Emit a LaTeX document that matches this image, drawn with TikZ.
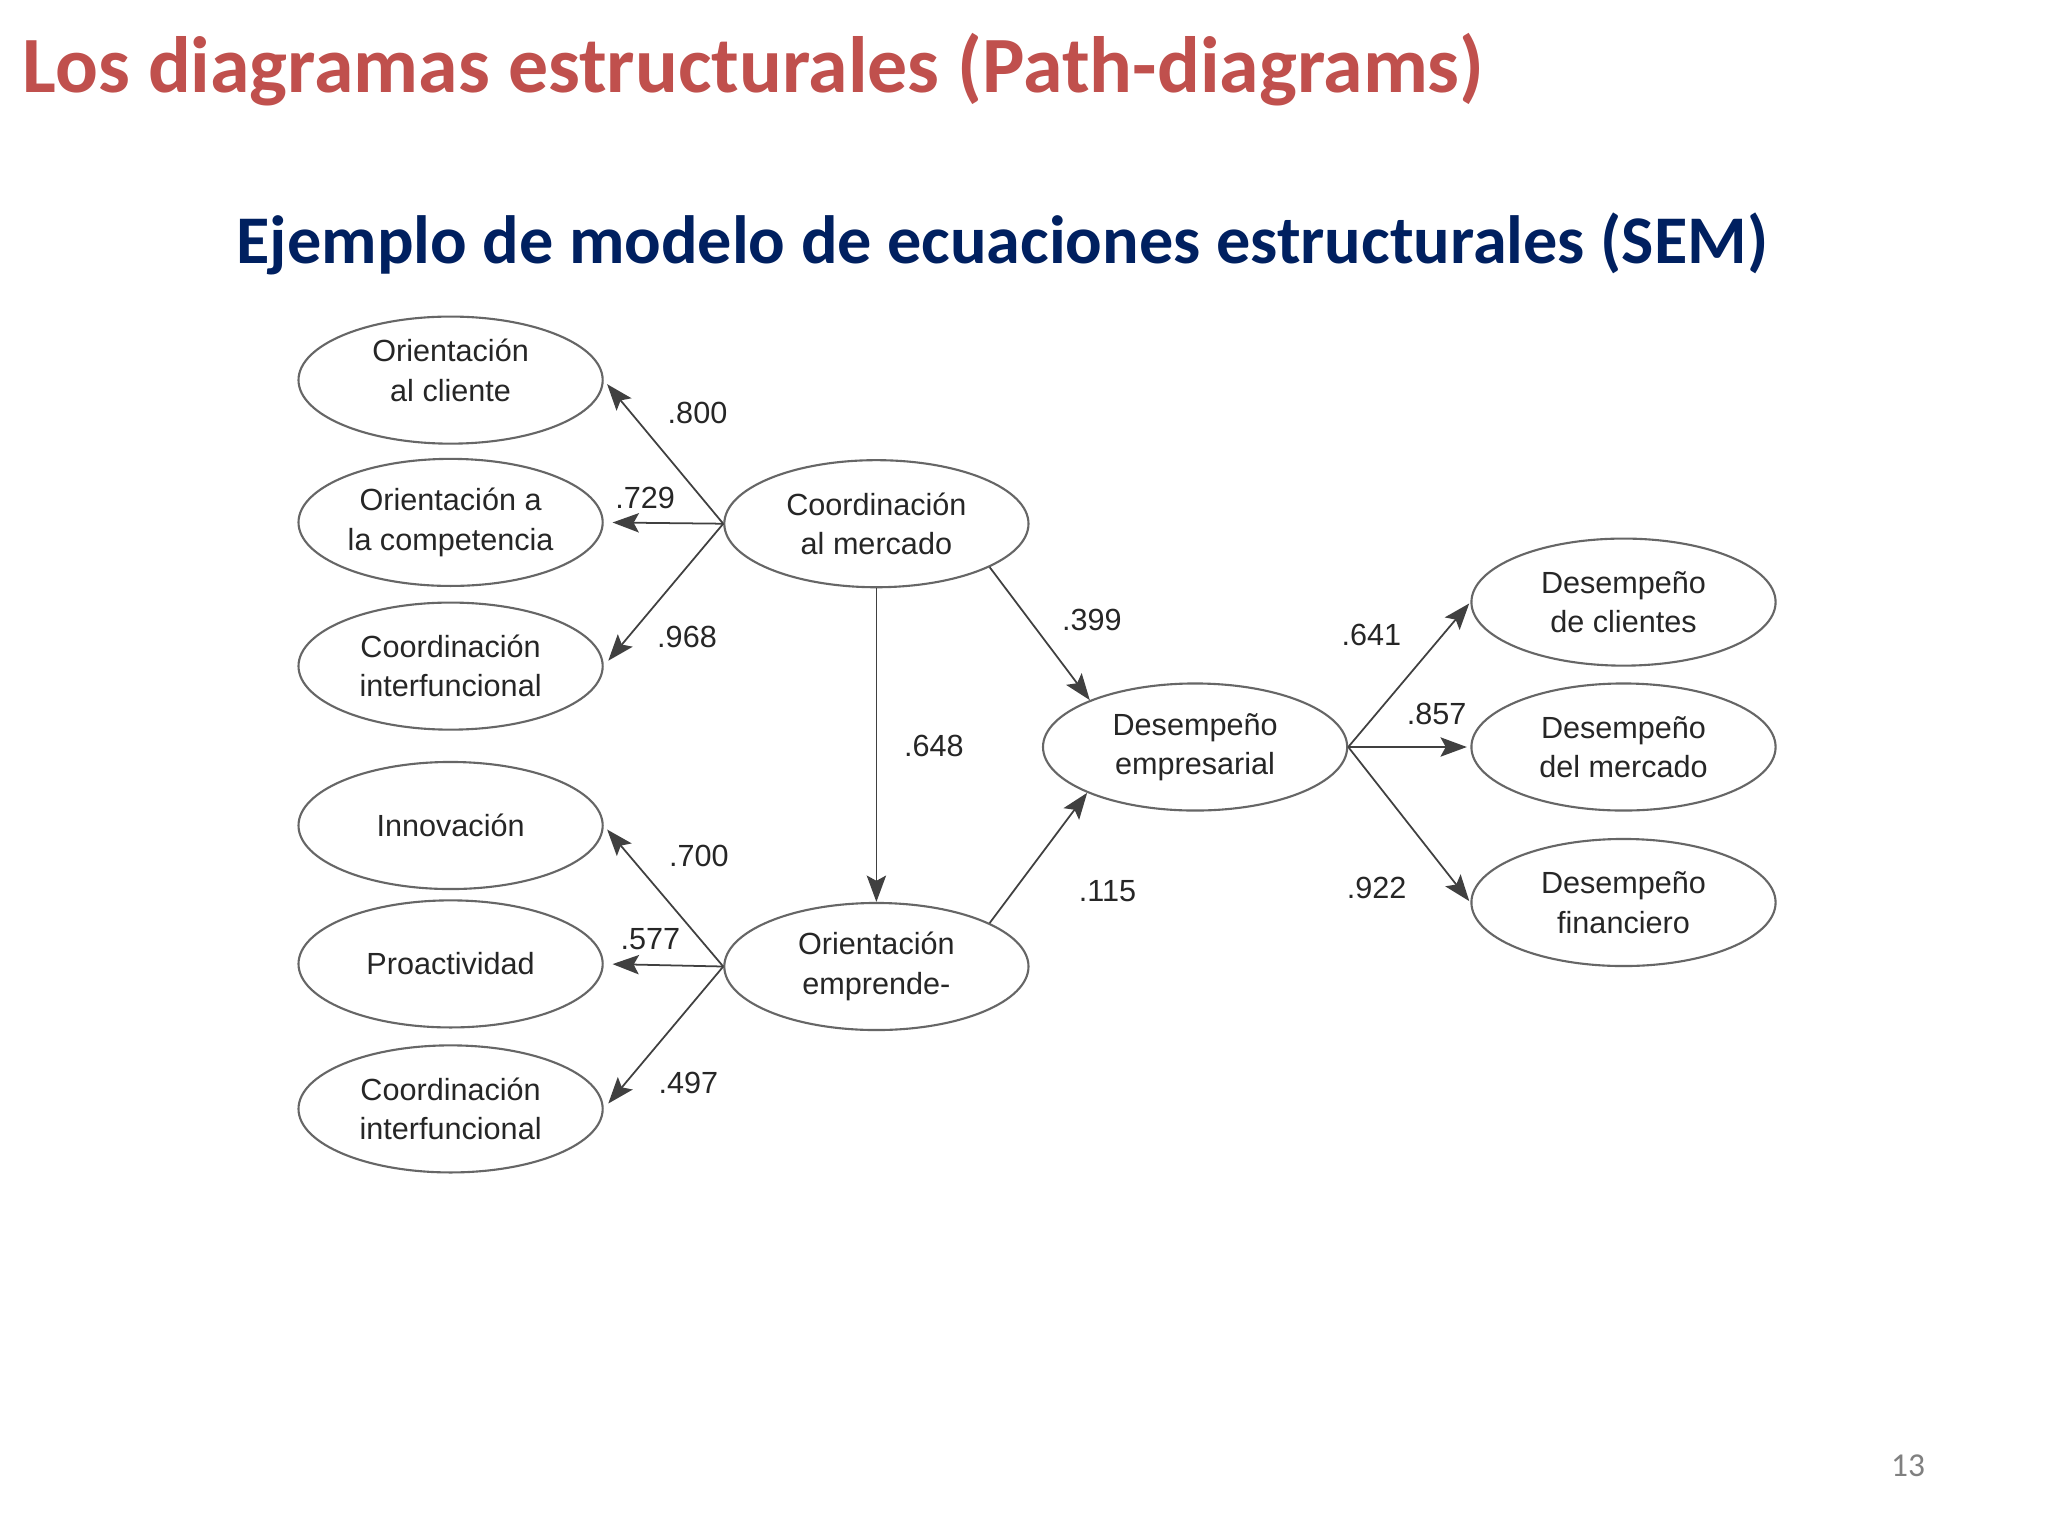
\documentclass[tikz,border=0pt]{standalone}
\usepackage{fontspec}
\setmainfont{Liberation Sans}
\newfontfamily\arialf{Liberation Sans}
\newfontfamily\carlito{Carlito}
\usetikzlibrary{shapes.geometric,arrows.meta}
\definecolor{titlered}{HTML}{C0504D}
\definecolor{subnavy}{HTML}{002060}
\begin{document}
\begin{tikzpicture}[x=0.01cm,y=-0.01cm,
  lat/.style={ellipse, draw=black!60, line width=0.6pt, minimum width=3.04cm, minimum height=1.27cm, inner sep=0pt, align=center, font=\arialf\fontsize{8.7}{11.2}\selectfont, text=black!85},
  pathar/.style={draw=black!75, line width=0.5pt, -{Stealth[length=7.5pt,width=5.5pt,inset=1.5pt]}},
  coef/.style={font=\arialf\fontsize{8.7}{11}\selectfont, text=black!85, inner sep=0pt}
]
\fill[white] (0,0) rectangle (2048,1536);
\useasboundingbox (0,0) rectangle (2048,1536);

% titles
\node[anchor=base west, inner sep=0pt, text=titlered, font=\carlito\bfseries\fontsize{22.7}{26}\selectfont] (title) at (22,92) {Los diagramas estructurales (Path-diagrams)};
\node[anchor=base west, inner sep=0pt, text=subnavy, font=\carlito\bfseries\fontsize{19.4}{23}\selectfont] (subtitle) at (236,263) {Ejemplo de modelo de ecuaciones estructurales (SEM)};
\node[inner sep=0pt, text=black!50, font=\carlito\fontsize{9.5}{11}\selectfont] (pagenum) at (1908,1466) {13};

% left indicators
\node[lat] (L1) at (450.6,380.1) {Orientación\\al cliente\\[-0.2cm]};
\node[lat] (L2) at (450.6,522.4) {Orientación a\\la competencia};
\node[lat] (L3) at (450.6,666.1) {Coordinación\\interfuncional};
\node[lat] (L4) at (450.6,825.5) {Innovación};
\node[lat] (L5) at (450.6,963.9) {Proactividad};
\node[lat] (L6) at (450.6,1108.9) {Coordinación\\interfuncional};

% central constructs
\node[lat] (CM) at (876.4,523.7) {Coordinación\\al mercado};
\node[lat] (OE) at (876.4,966.5) {Orientación\\emprende-};
\node[lat] (DE) at (1195.1,747) {Desempeño\\empresarial};

% right indicators
\node[lat] (R1) at (1623.5,602.1) {Desempeño\\de clientes};
\node[lat] (R2) at (1623.5,747) {Desempeño\\del mercado};
\node[lat] (R3) at (1623.5,902.5) {Desempeño\\financiero};

% paths
\draw[pathar, shorten >=1.5pt] (CM.west) -- (L1.east);
\draw[pathar, shorten >=2.5pt] (CM.west) -- (L2.east);
\draw[pathar, shorten >=2pt] (CM.west) -- (L3.east);
\draw[pathar, shorten >=1.5pt] (OE.west) -- (L4.east);
\draw[pathar, shorten >=2.5pt] (OE.west) -- (L5.east);
\draw[pathar, shorten >=2pt] (OE.west) -- (L6.east);
\draw[pathar] (CM.south) -- (OE.north);
\draw[pathar] (CM.-21) -- (DE.156);
\draw[pathar] (OE.21) -- (DE.-157);
\draw[pathar, shorten >=0.5pt] (DE.east) -- (R1.west);
\draw[pathar, shorten >=1pt] (DE.east) -- (R2.west);
\draw[pathar, shorten >=0.5pt] (DE.east) -- (R3.west);

% coefficients
\node[coef] (c800) at (697.5,412.7) {.800};
\node[coef] (c729) at (645.2,497.6) {.729};
\node[coef] (c968) at (687,637.4) {.968};
\node[coef] (c648) at (933.9,745.8) {.648};
\node[coef] (c399) at (1091.9,620.4) {.399};
\node[coef] (c115) at (1107.6,890.8) {.115};
\node[coef] (c641) at (1371.4,634.8) {.641};
\node[coef] (c857) at (1436.7,714.4) {.857};
\node[coef] (c922) at (1376.6,888.1) {.922};
\node[coef] (c700) at (698.8,855.5) {.700};
\node[coef] (c577) at (650.4,939.1) {.577};
\node[coef] (c497) at (688.3,1082.7) {.497};
\end{tikzpicture}
\end{document}
